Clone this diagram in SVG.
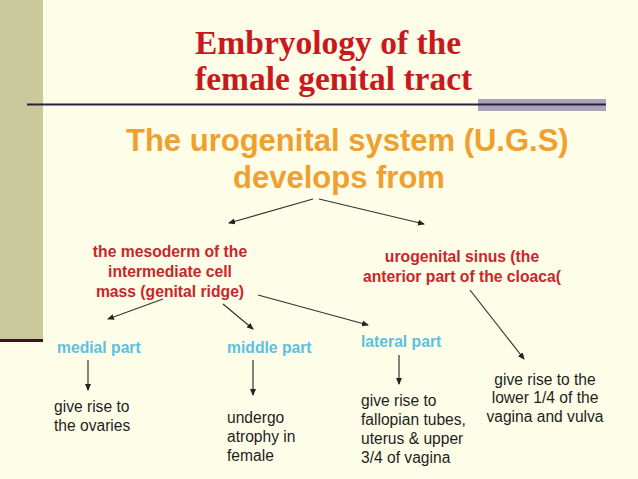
<svg xmlns="http://www.w3.org/2000/svg" width="638" height="479" viewBox="0 0 638 479">
<defs>
<style>
.title{font-family:"Liberation Serif","Times New Roman",serif;font-weight:bold;font-size:33.5px;fill:#C81A1E}
.sub{font-family:"Liberation Sans",Arial,sans-serif;font-weight:bold;font-size:31px;fill:#EFA02E}
.red{font-family:"Liberation Sans",Arial,sans-serif;font-weight:bold;font-size:15.7px;fill:#C9262C;text-anchor:middle}
.blue{font-family:"Liberation Sans",Arial,sans-serif;font-weight:bold;font-size:15.7px;fill:#5CC0E2}
.blk{font-family:"Liberation Sans",Arial,sans-serif;font-size:15.6px;fill:#1E1E1E}
.conn line{stroke:#333;stroke-width:1.2;marker-end:url(#ah)}
</style>
<marker id="ah" markerWidth="7" markerHeight="6" refX="6" refY="3" orient="auto" markerUnits="userSpaceOnUse">
<path d="M0,0 L7,3 L0,6 Z" fill="#222"/>
</marker>
</defs>
<rect x="0" y="0" width="638" height="479" fill="#FEFDE7"/>
<rect x="0" y="0" width="43" height="339" fill="#C9C99B"/>
<rect x="0" y="339" width="43" height="3" fill="#3A1030"/>
<rect x="478" y="99" width="128" height="12" fill="#A9A5B9"/>
<line x1="27" y1="104.5" x2="606" y2="104.5" stroke="#2A2040" stroke-width="2"/>
<g id="title">
<text class="title" x="195" y="54">Embryology of the</text>
<text class="title" x="195" y="90">female genital tract</text>
</g>
<g id="ugs">
<text class="sub" x="126" y="151">The urogenital system (U.G.S)</text>
<text class="sub" x="233" y="188">develops from</text>
</g>
<g id="mesoderm">
<text class="red" x="170" y="257">the mesoderm of the</text>
<text class="red" x="170" y="277">intermediate cell</text>
<text class="red" x="170" y="297">mass (genital ridge)</text>
</g>
<g id="sinus">
<text class="red" x="462" y="262">urogenital sinus (the</text>
<text class="red" x="462" y="282">anterior part of the cloaca(</text>
</g>
<g id="medial">
<text class="blue" x="57" y="353">medial part</text>
</g>
<g id="middle">
<text class="blue" x="227" y="353">middle part</text>
</g>
<g id="lateral">
<text class="blue" x="361" y="347">lateral part</text>
</g>
<g id="ovaries">
<text class="blk" x="54" y="412">give rise to</text>
<text class="blk" x="54" y="431">the ovaries</text>
</g>
<g id="atrophy">
<text class="blk" x="227" y="423">undergo</text>
<text class="blk" x="227" y="442">atrophy in</text>
<text class="blk" x="227" y="461">female</text>
</g>
<g id="fallopian">
<text class="blk" x="361" y="406">give rise to</text>
<text class="blk" x="361" y="425">fallopian tubes,</text>
<text class="blk" x="361" y="444">uterus &amp; upper</text>
<text class="blk" x="361" y="463">3/4 of vagina</text>
</g>
<g id="vulva">
<text class="blk" x="545" y="385" text-anchor="middle">give rise to the</text>
<text class="blk" x="545" y="403" text-anchor="middle">lower 1/4 of the</text>
<text class="blk" x="545" y="422" text-anchor="middle">vagina and vulva</text>
</g>
<g id="connectors" class="conn">
<line x1="313" y1="199" x2="229" y2="223"/>
<line x1="319" y1="199" x2="424" y2="224"/>
<line x1="163" y1="299" x2="108" y2="319"/>
<line x1="223" y1="304" x2="253" y2="329"/>
<line x1="258" y1="295" x2="368" y2="325"/>
<line x1="470" y1="290" x2="524" y2="359"/>
<line x1="88" y1="360" x2="88" y2="390"/>
<line x1="253" y1="360" x2="253" y2="395"/>
<line x1="399" y1="355" x2="399" y2="384"/>
</g>
</svg>
